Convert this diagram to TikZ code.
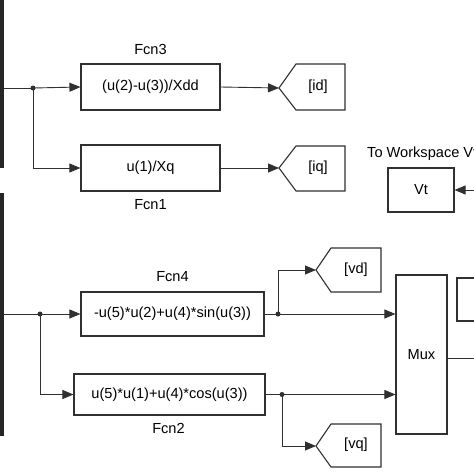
\documentclass[tikz,border=0pt]{standalone}
\usepackage{fontspec}
\setmainfont{Liberation Sans}
\usetikzlibrary{arrows.meta}
\definecolor{ln}{HTML}{303030}
\begin{document}
\begin{tikzpicture}[x=1pt,y=-1pt,
  font=\fontsize{14.6}{16}\selectfont,
  blk/.style={draw=ln,line width=1.1pt,fill=white,rectangle,inner sep=0pt},
  wire/.style={draw=ln,line width=0.9pt},
  arr/.style={wire,-{Triangle[length=11pt,width=9pt]}},
  dot/.style={circle,fill=ln,inner sep=0pt,minimum size=5pt},
  tagshape/.style={draw=ln,line width=1.1pt,fill=white},
  bar/.style={fill=black!85,draw=none}]
\clip (0,0) rectangle (474,474);
\fill[white] (0,0) rectangle (474,474);
% bus bars
\fill[bar] (0,0) rectangle (3.5,168);
\fill[bar] (0,193) rectangle (3.5,436);
\coordinate (b1) at (3.5,88);
\coordinate (b2) at (3.5,314);
% top blocks
\node[blk,minimum width=139pt,minimum height=46pt] (fcn3) at (150.5,87) {(u(2)-u(3))/Xdd};
\node[blk,minimum width=139pt,minimum height=46pt] (fcn1) at (150.5,168) {u(1)/Xq};
\node (l3) at (150.5,49) {Fcn3};
\node (l1) at (150.5,205) {Fcn1};
\node[dot] (j1) at (33,88) {};
% tags id, iq
\coordinate (tid) at (279,88);
\draw[tagshape] (tid) -- (296,64) -- (345,64) -- (345,110) -- (296,110) -- cycle;
\node (id) at (318,87) {[id]};
\coordinate (tiq) at (279,168);
\draw[tagshape] (tiq) -- (296,146) -- (345,146) -- (345,191) -- (296,191) -- cycle;
\node (iq) at (318,168) {[iq]};
\draw[wire] (b1) -- (j1.center);
\draw[arr] (j1.center) -- (fcn3.west);
\draw[arr] (j1.center) |- (fcn1.west);
\draw[arr] (fcn3.east) -- (tid);
\draw[arr] (fcn1.east) -- (tiq);
% To workspace
\node[anchor=west,inner sep=0pt] (tw) at (367,154) {To Workspace Vt};
\node[blk,minimum width=66pt,minimum height=44pt] (vt) at (421,190) {Vt};
\coordinate (vtin) at (480,190);
\draw[arr] (vtin) -- (vt.east);
% lower blocks
\node[blk,minimum width=183pt,minimum height=44pt] (fcn4) at (172.5,314) {-u(5)*u(2)+u(4)*sin(u(3))};
\node[blk,minimum width=191pt,minimum height=41pt] (fcn2) at (169.5,394.5) {u(5)*u(1)+u(4)*cos(u(3))};
\node (l4) at (172.5,277) {Fcn4};
\node (l2) at (168.5,428) {Fcn2};
\node[dot] (j2) at (40,314) {};
\draw[wire] (b2) -- (j2.center);
\draw[arr] (j2.center) -- (fcn4.west);
\draw[arr] (j2.center) |- (fcn2.west);
% mux
\node[blk,minimum width=51pt,minimum height=159pt] (mux) at (421.5,354.5) {Mux};
\node[dot] (j3) at (278,314) {};
\node[dot] (j4) at (282,394.5) {};
\draw[wire] (fcn4.east) -- (j3.center);
\draw[wire] (fcn2.east) -- (j4.center);
\draw[arr] (j3.center) -- (mux.west |- j3);
\draw[arr] (j4.center) -- (mux.west |- j4);
% vd, vq tags
\coordinate (tvd) at (316,270);
\draw[tagshape] (tvd) -- (331,248) -- (381,248) -- (381,292) -- (331,292) -- cycle;
\node (vd) at (356,270) {[vd]};
\coordinate (tvq) at (316,446);
\draw[tagshape] (tvq) -- (331,424) -- (381,424) -- (381,467) -- (331,467) -- cycle;
\node (vq) at (356,445) {[vq]};
\draw[arr] (j3.center) |- (tvd);
\draw[arr] (j4.center) |- (tvq);
% mux output and partial block
\node[blk,minimum width=33pt,minimum height=43pt] (rb) at (473.5,299.5) {};
\coordinate (mout) at (480,358);
\draw[wire] (mux.east |- mout) -- (mout);
\end{tikzpicture}
\end{document}
